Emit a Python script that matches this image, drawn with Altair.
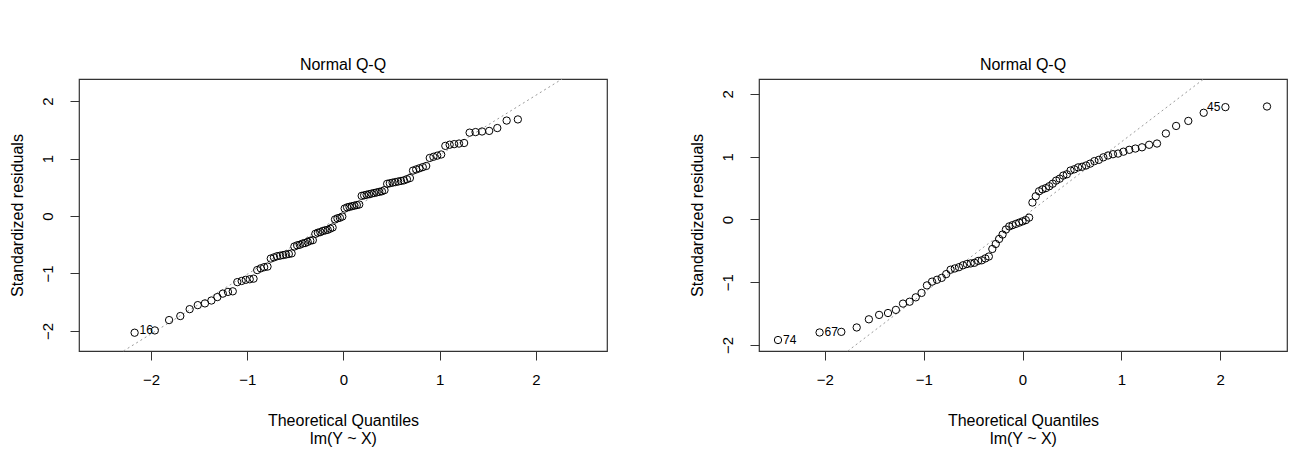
import altair as alt
import pandas as pd

FONT = "Liberation Sans"

# ---------------- left panel (n = 100, extreme points not shown) ----------------
left_x = [-2.1701, -1.9600, -1.8119, -1.6954, -1.5982, -1.5141, -1.4395, -1.3722, -1.3106, -1.2536,
          -1.2004, -1.1503, -1.1031, -1.0581, -1.0152, -0.9741, -0.9346, -0.8965, -0.8596, -0.8239,
          -0.7892, -0.7554, -0.7225, -0.6903, -0.6588, -0.6280, -0.5978, -0.5681, -0.5388, -0.5101,
          -0.4817, -0.4538, -0.4261, -0.3989, -0.3719, -0.3451, -0.3186, -0.2924, -0.2663, -0.2404,
          -0.2147, -0.1891, -0.1637, -0.1383, -0.1130, -0.0878, -0.0627, -0.0376, -0.0125,
          0.0125, 0.0376, 0.0627, 0.0878, 0.1130, 0.1383, 0.1637, 0.1891, 0.2147, 0.2404,
          0.2663, 0.2924, 0.3186, 0.3451, 0.3719, 0.3989, 0.4261, 0.4538, 0.4817, 0.5101,
          0.5388, 0.5681, 0.5978, 0.6280, 0.6588, 0.6903, 0.7225, 0.7554, 0.7892, 0.8239,
          0.8596, 0.8965, 0.9346, 0.9741, 1.0152, 1.0581, 1.1031, 1.1503, 1.2004, 1.2536,
          1.3106, 1.3722, 1.4395, 1.5141, 1.5982, 1.6954, 1.8119]
left_y = [-2.03, -1.99, -1.81, -1.74, -1.62, -1.55, -1.52, -1.47, -1.41, -1.35, -1.32, -1.31,
          -1.15, -1.13, -1.11, -1.10, -1.09,
          -0.94, -0.91, -0.89, -0.88,
          -0.74, -0.72, -0.70, -0.69, -0.68, -0.67, -0.66, -0.65,
          -0.53, -0.51, -0.50, -0.48, -0.47, -0.45, -0.43, -0.42,
          -0.31, -0.29, -0.28, -0.26, -0.25, -0.24, -0.22, -0.20,
          -0.06, -0.04, -0.03, -0.01,
          0.13, 0.15, 0.16, 0.17, 0.18, 0.19, 0.20,
          0.35, 0.36, 0.37, 0.38, 0.39, 0.40, 0.41, 0.42, 0.43, 0.45,
          0.56, 0.57, 0.58, 0.59, 0.60, 0.61, 0.62, 0.64, 0.66,
          0.79, 0.81, 0.83, 0.85, 0.87,
          1.01, 1.03, 1.05, 1.07,
          1.22, 1.24, 1.25, 1.26, 1.27,
          1.45, 1.46, 1.47, 1.48,
          1.53, 1.66, 1.68]
left_line_intercept, left_line_slope = 0.025, 1.038
left_labels = ["16"]
left_label_x = [-2.1701]
left_label_y = [-2.03]

# ---------------- right panel (n = 75) ----------------
right_x = [-2.4747, -2.0537, -1.8339, -1.6781, -1.5548, -1.4512, -1.3613, -1.2816, -1.2094, -1.1423,
           -1.0803, -1.0218, -0.9674, -0.9154, -0.8655, -0.8179, -0.7722, -0.7279, -0.6851, -0.6433,
           -0.6026, -0.5630, -0.5244, -0.4862, -0.4488, -0.4125, -0.3763, -0.3407, -0.3055, -0.2707,
           -0.2364, -0.2019, -0.1678, -0.1340, -0.1004, -0.0669, -0.0334, 0.0,
           0.0334, 0.0669, 0.1004, 0.1340, 0.1678, 0.2019, 0.2364, 0.2707, 0.3055, 0.3407,
           0.3763, 0.4125, 0.4488, 0.4862, 0.5244, 0.5630, 0.6026, 0.6433, 0.6851, 0.7279,
           0.7722, 0.8179, 0.8655, 0.9154, 0.9674, 1.0218, 1.0803, 1.1423, 1.2094, 1.2816,
           1.3613, 1.4512, 1.5548, 1.6781, 1.8339, 2.0537, 2.4747]
right_y = [-1.92, -1.80, -1.79, -1.72, -1.59, -1.52, -1.49, -1.44, -1.34, -1.31,
           -1.24, -1.17, -1.05, -0.99, -0.96, -0.93, -0.87, -0.80, -0.78, -0.76,
           -0.73, -0.71, -0.70, -0.69, -0.66, -0.65, -0.62, -0.59, -0.47, -0.39,
           -0.31, -0.24, -0.16, -0.11, -0.09, -0.07, -0.05, -0.03, -0.01, 0.03,
           0.27, 0.37, 0.45, 0.48, 0.50, 0.53, 0.57, 0.62, 0.65, 0.70,
           0.72, 0.78, 0.80, 0.83, 0.84, 0.86, 0.89, 0.93, 0.95, 0.99,
           1.02, 1.04, 1.05, 1.08, 1.11, 1.13, 1.15, 1.19, 1.21, 1.37,
           1.49, 1.57, 1.70, 1.79, 1.80]
right_line_intercept, right_line_slope = 0.032, 1.203
right_labels_left = ["74", "67"]
right_label_left_x = [-2.4747, -2.0537]
right_label_left_y = [-1.92, -1.80]
right_labels_right = ["45"]
right_label_right_x = [2.0537]
right_label_right_y = [1.79]

tick_values = [-2, -1, 0, 1, 2]


def panel(xs, ys, icpt, slope, xdom, ydom, labs_l, lx_l, ly_l, labs_r, lx_r, ly_r, label_dy):
    pts_df = pd.DataFrame({"x": xs, "y": ys})
    # reference line restricted to the plotting box
    x0 = max(xdom[0], (ydom[0] - icpt) / slope)
    x1 = min(xdom[1], (ydom[1] - icpt) / slope)
    line_df = pd.DataFrame({"x": [x0, x1]})
    line_df["y"] = icpt + slope * line_df["x"]
    xenc = alt.X("x:Q", scale=alt.Scale(domain=xdom, nice=False, zero=False),
                 axis=alt.Axis(values=tick_values, title=["Theoretical Quantiles", "lm(Y ~ X)"],
                               titleLineHeight=18, labelPadding=12, titlePadding=25))
    yenc = alt.Y("y:Q", scale=alt.Scale(domain=ydom, nice=False, zero=False),
                 axis=alt.Axis(values=tick_values, title="Standardized residuals",
                               labelAngle=-90, labelAlign="center", labelBaseline="bottom",
                               labelPadding=15, titlePadding=15))
    line = alt.Chart(line_df).mark_line(color="#9a9a9a", strokeDash=[2, 3], strokeWidth=1
                                        ).encode(x=xenc, y=yenc)
    pts = alt.Chart(pts_df).mark_point(shape="circle", filled=False, color="black", size=54,
                                       strokeWidth=1, opacity=1).encode(x=xenc, y=yenc)
    layers = [line, pts]
    if labs_l:
        ldf = pd.DataFrame({"x": lx_l, "y": ly_l, "t": labs_l})
        layers.append(alt.Chart(ldf).mark_text(align="left", baseline="middle", dx=5, dy=label_dy,
                                               font=FONT, fontSize=12, color="black")
                      .encode(x=xenc, y=yenc, text="t:N"))
    if labs_r:
        rdf = pd.DataFrame({"x": lx_r, "y": ly_r, "t": labs_r})
        layers.append(alt.Chart(rdf).mark_text(align="right", baseline="middle", dx=-5, dy=label_dy,
                                               font=FONT, fontSize=12, color="black")
                      .encode(x=xenc, y=yenc, text="t:N"))
    return alt.layer(*layers).properties(
        width=528, height=272,
        title=alt.TitleParams("Normal Q-Q", font=FONT, fontSize=16, fontWeight="normal",
                              anchor="middle", frame="group", baseline="alphabetic", offset=-9,
                              color="black"))


left = panel(left_x, left_y, left_line_intercept, left_line_slope, [-2.748, 2.738], [-2.348, 2.383],
             left_labels, left_label_x, left_label_y, [], [], [], -3)
right = panel(right_x, right_y, right_line_intercept, right_line_slope, [-2.667, 2.677], [-2.095, 2.238],
              right_labels_left, right_label_left_x, right_label_left_y,
              right_labels_right, right_label_right_x, right_label_right_y, 0)

chart = alt.hconcat(left, right, spacing=80).properties(
    padding={"top": 48, "left": 0, "right": 5, "bottom": 5}
).configure(background="white").configure_view(
    stroke="#333333", strokeWidth=1.2
).configure_axis(
    grid=False, domain=False, tickColor="#333333", tickSize=9, tickWidth=1,
    labelFont=FONT, labelFontSize=15, labelColor="black",
    titleFont=FONT, titleFontSize=16, titleFontWeight="normal", titleColor="black",
)

chart.save("out.html", embed_options={"renderer": "svg", "actions": False})
